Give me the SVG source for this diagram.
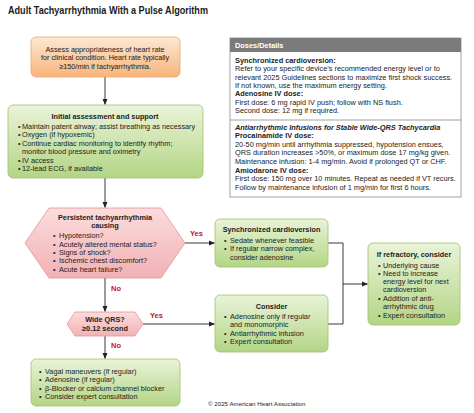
<svg xmlns="http://www.w3.org/2000/svg" width="474" height="413" viewBox="0 0 474 413">
<defs>
<linearGradient id="gGreen" x1="0" y1="0" x2="0" y2="1"><stop offset="0" stop-color="#eaf3d9"/><stop offset="1" stop-color="#b3d585"/></linearGradient>
<linearGradient id="gPink" x1="0" y1="0" x2="0" y2="1"><stop offset="0" stop-color="#fbdcdc"/><stop offset="1" stop-color="#f2b1b4"/></linearGradient>
<linearGradient id="gOrange" x1="0" y1="0" x2="0" y2="1"><stop offset="0" stop-color="#fde8d3"/><stop offset="1" stop-color="#f8b47a"/></linearGradient>
<marker id="ah" markerWidth="6" markerHeight="6" refX="5.5" refY="3" orient="auto" markerUnits="userSpaceOnUse"><path d="M0,0.5 L6,3 L0,5.5 Z" fill="#222"/></marker>
</defs>
<style>
text{font-family:"Liberation Sans",Arial,sans-serif;fill:#222;font-size:7.3px}
.t{font-size:10px;font-weight:bold;fill:#1a1a1a}
.b{font-weight:bold}
.c{text-anchor:middle}
.green{fill:url(#gGreen);stroke:#9cc46c;stroke-width:0.8}
.pink{fill:url(#gPink);stroke:#e0969b;stroke-width:0.8}
.orange{fill:url(#gOrange);stroke:#eea66a;stroke-width:0.8}
.yn{font-weight:bold;fill:#c8102e;font-size:7.5px}
.ln{fill:none;stroke:#222;stroke-width:0.9}
.d{font-size:7.35px}
.hd{fill:#fff;font-weight:bold;font-size:7.4px}
.cp{font-size:6.2px}
</style>
<rect width="474" height="413" fill="#fff"/>
<text class="t" x="8" y="14" textLength="200" lengthAdjust="spacingAndGlyphs">Adult Tachyarrhythmia With a Pulse Algorithm</text>

<g id="connectors">
<path class="ln" d="M105,77 V104.5" marker-end="url(#ah)"/>
<path class="ln" d="M105,178 V207.5" marker-end="url(#ah)"/>
<path class="ln" d="M185,243 H214.5" marker-end="url(#ah)"/>
<path class="ln" d="M105,278 V311.5" marker-end="url(#ah)"/>
<path class="ln" d="M143,324 H214.5" marker-end="url(#ah)"/>
<path class="ln" d="M105,336 V358.5" marker-end="url(#ah)"/>
<path class="ln" d="M328,243 H343 V324 H328"/>
<path class="ln" d="M343,284 H367.5" marker-end="url(#ah)"/>
<text class="yn" x="190" y="235.5">Yes</text>
<text class="yn" x="111" y="290.5">No</text>
<text class="yn" x="150" y="317.5">Yes</text>
<text class="yn" x="111" y="347.5">No</text>
</g>

<g id="assess">
<rect class="orange" x="31" y="37" width="149" height="40" rx="5"/>
<text class="c" x="105" y="51.5">Assess appropriateness of heart rate</text>
<text class="c" x="105" y="60">for clinical condition. Heart rate typically</text>
<text class="c" x="105" y="68.5">≥150/min if tachyarrhythmia.</text>
</g>

<g id="initial">
<rect class="green" x="8" y="105" width="195" height="73" rx="5"/>
<text class="c b" x="105" y="118.5">Initial assessment and support</text>
<text x="18" y="128.5">•</text><text x="22" y="128.5">Maintain patent airway; assist breathing as necessary</text>
<text x="18" y="137">•</text><text x="22" y="137">Oxygen (if hypoxemic)</text>
<text x="18" y="145.5">•</text><text x="22" y="145.5">Continue cardiac monitoring to identify rhythm;</text>
<text x="22" y="154">monitor blood pressure and oximetry</text>
<text x="18" y="162.5">•</text><text x="22" y="162.5">IV access</text>
<text x="18" y="171">•</text><text x="22" y="171">12-lead ECG, if available</text>
</g>

<g id="persistent">
<polygon class="pink" points="49,208 161,208 185,243 161,278 49,278 25,243"/>
<text class="c b" x="105" y="219.5">Persistent tachyarrhythmia</text>
<text class="c b" x="105" y="228.3">causing</text>
<text x="53" y="238.3">•</text><text x="59" y="238.3">Hypotension?</text>
<text x="53" y="246.6">•</text><text x="59" y="246.6">Acutely altered mental status?</text>
<text x="53" y="254.9">•</text><text x="59" y="254.9">Signs of shock?</text>
<text x="53" y="263.2">•</text><text x="59" y="263.2">Ischemic chest discomfort?</text>
<text x="53" y="271.5">•</text><text x="59" y="271.5">Acute heart failure?</text>
</g>

<g id="wideqrs">
<polygon class="pink" points="75,312 135,312 143,324 135,336 75,336 67,324"/>
<text class="c b" x="105" y="322">Wide QRS?</text>
<text class="c b" x="105" y="331">≥0.12 second</text>
</g>

<g id="vagal">
<rect class="green" x="31" y="359" width="149" height="47" rx="5"/>
<text x="39" y="373.5">•</text><text x="45" y="373.5">Vagal maneuvers (if regular)</text>
<text x="39" y="382">•</text><text x="45" y="382">Adenosine (if regular)</text>
<text x="39" y="390.5">•</text><text x="45" y="390.5">β-Blocker or calcium channel blocker</text>
<text x="39" y="399">•</text><text x="45" y="399">Consider expert consultation</text>
</g>

<g id="sync">
<rect class="green" x="215" y="219" width="113" height="48" rx="5"/>
<text class="c b" x="271.5" y="232">Synchronized cardioversion</text>
<text x="224" y="242.5">•</text><text x="230" y="242.5">Sedate whenever feasible</text>
<text x="224" y="251">•</text><text x="230" y="251">If regular narrow complex,</text>
<text x="230" y="259.5">consider adenosine</text>
</g>

<g id="consider">
<rect class="green" x="215" y="295" width="113" height="57" rx="5"/>
<text class="c b" x="271.5" y="308.5">Consider</text>
<text x="224" y="319">•</text><text x="230" y="319">Adenosine only if regular</text>
<text x="230" y="327.3">and monomorphic</text>
<text x="224" y="335.6">•</text><text x="230" y="335.6">Antiarrhythmic infusion</text>
<text x="224" y="344">•</text><text x="230" y="344">Expert consultation</text>
</g>

<g id="refractory">
<rect class="green" x="368" y="243" width="92" height="82" rx="5"/>
<text class="c b" x="414" y="257">If refractory, consider</text>
<text x="378" y="267.5">•</text><text x="383" y="267.5">Underlying cause</text>
<text x="378" y="275.8">•</text><text x="383" y="275.8">Need to increase</text>
<text x="383" y="284.1">energy level for next</text>
<text x="383" y="292.4">cardioversion</text>
<text x="378" y="300.9">•</text><text x="383" y="300.9">Addition of anti-</text>
<text x="383" y="309.2">arrhythmic drug</text>
<text x="378" y="317.7">•</text><text x="383" y="317.7">Expert consultation</text>
</g>

<g id="doses">
<rect x="230" y="38" width="231" height="159" fill="#fff" stroke="#8c8c8c" stroke-width="0.8"/>
<rect x="230" y="38" width="231" height="14" fill="#7b7b7b"/>
<line x1="230" y1="120" x2="461" y2="120" stroke="#8c8c8c" stroke-width="0.8"/>
<text class="hd" x="235" y="47.8">Doses/Details</text>
<text class="d b" x="235" y="63">Synchronized cardioversion:</text>
<text class="d" x="235" y="71.3">Refer to your specific device’s recommended energy level or to</text>
<text class="d" x="235" y="79.6">relevant 2025 Guidelines sections to maximize first shock success.</text>
<text class="d" x="235" y="87.9">If not known, use the maximum energy setting.</text>
<text class="d b" x="235" y="96.2">Adenosine IV dose:</text>
<text class="d" x="235" y="104.5">First dose: 6 mg rapid IV push; follow with NS flush.</text>
<text class="d" x="235" y="112.8">Second dose: 12 mg if required.</text>
<text class="d b" x="235" y="129.7" font-style="italic">Antiarrhythmic Infusions for Stable Wide-QRS Tachycardia</text>
<text class="d b" x="235" y="138.2">Procainamide IV dose:</text>
<text class="d" x="235" y="147">20-50 mg/min until arrhythmia suppressed, hypotension ensues,</text>
<text class="d" x="235" y="155.3">QRS duration increases &gt;50%, or maximum dose 17 mg/kg given.</text>
<text class="d" x="235" y="163.6">Maintenance infusion: 1-4 mg/min. Avoid if prolonged QT or CHF.</text>
<text class="d b" x="235" y="172.8">Amiodarone IV dose:</text>
<text class="d" x="235" y="181.4">First dose: 150 mg over 10 minutes. Repeat as needed if VT recurs.</text>
<text class="d" x="235" y="189.7">Follow by maintenance infusion of 1 mg/min for first 6 hours.</text>
</g>

<text class="cp" x="208" y="406">© 2025 American Heart Association</text>
</svg>
